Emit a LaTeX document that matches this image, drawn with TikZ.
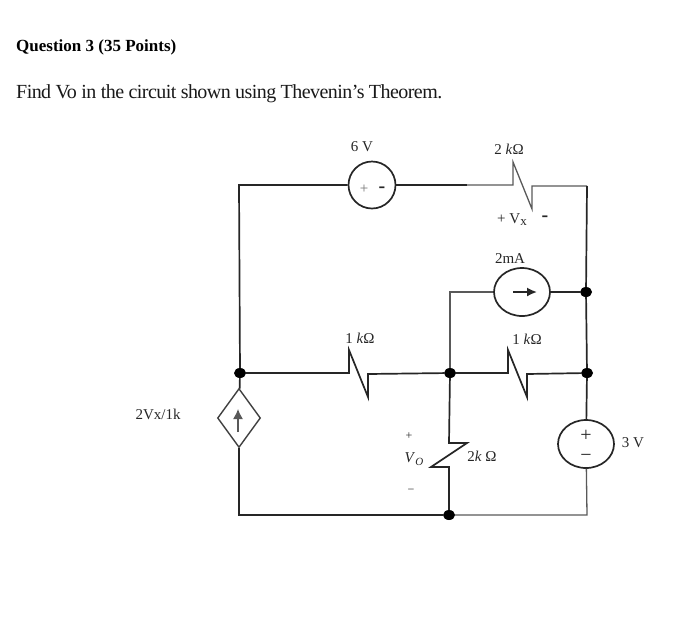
\documentclass[tikz,border=0pt]{standalone}
\usepackage{fontspec}
\setmainfont{Liberation Serif}
\usetikzlibrary{shapes.geometric,arrows.meta}
\begin{document}
\begin{tikzpicture}[x=1pt,y=-1pt]
        \tikzstyle{wire}=[line width=1.7pt,black!85]
        \tikzstyle{thin wire}=[line width=1.3pt,black!65]
        \tikzstyle{dot}=[ellipse,fill=black,inner sep=0pt,minimum width=12pt,minimum height=10pt]
        \tikzstyle{source}=[ellipse,draw=black!85,line width=1.7pt,fill=white,inner sep=0pt,minimum width=56pt,minimum height=48pt]
        \tikzstyle{label}=[inner sep=0pt,font=\fontsize{15}{17}\selectfont,black!85]
        \useasboundingbox (0,0) rectangle (700,630);
        \node[anchor=west,inner sep=0pt,font=\fontsize{17}{19}\selectfont\bfseries] (title) at (16,47) {Question 3 (35 Points)};
        \node[anchor=west,inner sep=0pt,font=\fontsize{20}{22}\selectfont,text=black!90] (task) at (16,94) {\addfontfeature{LetterSpace=-2.8}Find Vo in the circuit shown using Thevenin’s Theorem.};
        % corners
        \coordinate (tl) at (239,185);
        \coordinate (bl) at (239,515);
        \coordinate (tr) at (587,186);
        \coordinate (br) at (587,515);
        \coordinate (ct) at (450,292);
        \coordinate (wa) at (467,185);
        % sources
        \node[source,minimum width=47pt,minimum height=47pt] (vsix) at (372,185) {};
        \node[source] (ima) at (522,292) {};
        \node[source] (vthree) at (586,444) {};
        \node[diamond,draw=black!75,line width=1.4pt,fill=white,inner sep=0pt,minimum width=43pt,minimum height=59pt] (idep) at (239,418) {};
        % junctions
        \node[dot] (ja) at (240,373) {};
        \node[dot] (jb) at (450,373) {};
        \node[dot] (jc) at (587,373) {};
        \node[dot] (jd) at (586,292) {};
        \node[dot] (je) at (449,515) {};
        % wires
        \draw[wire] (vsix) -- (tl) -- (ja) -- (idep) -- (bl) -- (je);
        \draw[thin wire] (je) -- (br) -- (vthree);
        \draw[wire] (vsix) -- (wa);
        \draw[thin wire] (wa) -- ++(46,0) -- ++(0,-23) -- ++(19,47) -- ++(0,-23) -- (tr);
        \draw[wire] (tr) -- (jd) -- (jc) -- (vthree);
        \draw[wire] (ima) -- (jd);
        \draw[thin wire] (ima) -- (ct) -- (jb);
        \draw[wire] (ja) -- ++(109,0) -- ++(0,-23) -- ++(19,47) -- ++(0,-23) -- (jb);
        \draw[wire] (jb) -- ++(58,0) -- ++(0,-23) -- ++(19,47) -- ++(0,-23) -- (jc);
        \draw[wire] (jb) -- ++(-1,70) -- ++(18,0) -- ++(-36,24) -- ++(18,0) -- (je);
        % signs inside the sources
        \draw[-{Latex[length=10pt,width=9pt]},wire] (513,292) -- (537,292);
        \draw[-{Latex[length=10pt,width=10pt]},thin wire] (238,432) -- (238,409);
        \node[label,font=\fontsize{20}{20}\selectfont] (plusthree) at (586,436) {+};
        \node[label,font=\fontsize{20}{20}\selectfont] (minusthree) at (586,457.5) {−};
        \node[label,text=black!55] (plussix) at (364,189) {+};
        \node[label,font=\fontsize{20}{20}\selectfont\bfseries] (minussix) at (382,190) {-};
        % labels
        \node[label] (lsix) at (362,147) {6 V};
        \node[label] (lrx) at (509,149) {2 \textit{k}Ω};
        \node[label] (lvx) at (512,220) {+ V\raisebox{-2pt}{\fontsize{13}{13}\selectfont x}};
        \node[label,font=\fontsize{20}{20}\selectfont\bfseries] (lminus) at (545,219) {-};
        \node[label] (lma) at (510,259) {2mA};
        \node[label] (lra) at (360,338) {1 \textit{k}Ω};
        \node[label] (lrb) at (527,339) {1 \textit{k}Ω};
        \node[label] (ldep) at (158,414) {2Vx/1k};
        \node[label] (lplus) at (409,436) {\fontsize{12}{12}\selectfont +};
        \node[label] (lvo) at (414,459) {\textit{V}\raisebox{-3pt}{\fontsize{11}{11}\selectfont\textit{O}}};
        \node[label] (lmin) at (411,491) {\fontsize{12}{12}\selectfont −};
        \node[label] (lrc) at (482,456) {2\textit{k} Ω};
        \node[label] (lthree) at (633,443) {3 V};
    \end{tikzpicture}
\end{document}
